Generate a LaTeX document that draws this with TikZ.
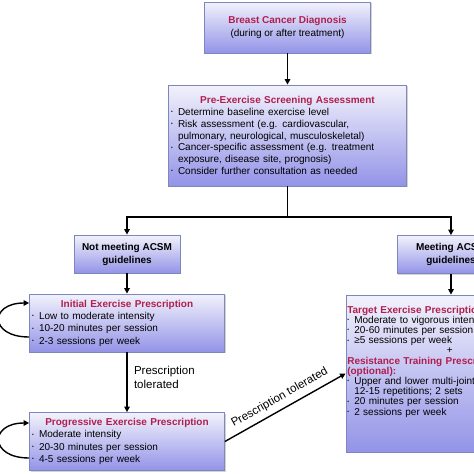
\documentclass[tikz,border=0pt]{standalone}
\usepackage{fontspec}
\setmainfont{Liberation Sans}
\usetikzlibrary{arrows.meta,positioning,calc,shadows}
\definecolor{boxtop}{HTML}{F2F2FC}
\definecolor{boxbot}{HTML}{9393E8}
\definecolor{boxline}{HTML}{7C88BC}
\definecolor{titlered}{HTML}{B01E4E}
\tikzset{
  stepbox/.style={draw=boxline, line width=0.8pt, top color=boxtop, bottom color=boxbot,
    drop shadow={opacity=0.35, shadow xshift=1.2pt, shadow yshift=-1.2pt},
    inner sep=0pt, align=left, font=\fontsize{10}{11.8}\selectfont},
  gatebox/.style={stepbox, align=center, font=\fontsize{10}{13}\selectfont\bfseries},
  flow/.style={-{Triangle[length=5.5pt,width=5.5pt]}, line width=1.4pt, color=black},
  plain/.style={line width=1.4pt, color=black},
  note/.style={font=\fontsize{11.5}{13.5}\selectfont, align=left},
}
\newcommand{\ttl}[1]{\textcolor{titlered}{\bfseries #1}}
\newcommand{\bul}{\makebox[7pt][l]{\raisebox{0.3ex}{\fontsize{5}{5}\selectfont\textbullet}}}

\begin{document}
\begin{tikzpicture}[x=1pt,y=1pt]
  \useasboundingbox (0,0) rectangle (474,-474);
  \clip (0,0) rectangle (474,-474);
  % top of the chart
  \node[stepbox, align=center, minimum width=166pt, minimum height=51pt,
        font=\fontsize{10}{12.5}\selectfont] (diag) at (287.5,-27.5)
    {\ttl{Breast Cancer Diagnosis}\\(during or after treatment)};
  \node[stepbox, minimum width=238pt, minimum height=101pt, text width=233pt] (screen) at (287.5,-135.5)
    {\centering\ttl{Pre-Exercise Screening Assessment}\par
     \raggedright
     \bul Determine baseline exercise level\\
     \bul Risk assessment (e.g. cardiovascular,\\
     \hspace*{7pt}pulmonary, neurological, musculoskeletal)\\
     \bul Cancer-specific assessment (e.g. treatment\\
     \hspace*{7pt}exposure, disease site, prognosis)\\
     \bul Consider further consultation as needed};
  % the two branches
  \node[gatebox, minimum width=106pt, minimum height=38pt] (notmeet) at (127,-254)
    {Not meeting ACSM\\guidelines};
  \node[gatebox, minimum width=108pt, minimum height=38pt] (meet) at (451,-254.5)
    {Meeting ACSM\\guidelines};
  \node[stepbox, minimum width=195pt, minimum height=58pt, text width=190pt,
        font=\fontsize{10}{12.3}\selectfont] (init) at (127,-323)
    {\centering\ttl{Initial Exercise Prescription}\par
     \raggedright
     \bul Low to moderate intensity\\
     \bul 10-20 minutes per session\\
     \bul 2-3 sessions per week};
  \node[stepbox, minimum width=195pt, minimum height=58pt, text width=190pt,
        font=\fontsize{10}{12.3}\selectfont] (prog) at (127,-441.5)
    {\centering\ttl{Progressive Exercise Prescription}\par
     \raggedright
     \bul Moderate intensity\\
     \bul 20-30 minutes per session\\
     \bul 4-5 sessions per week};
  \node[stepbox, minimum width=210pt, minimum height=157pt] (target) at (451,-373.5) {};
  \node[anchor=north west, inner sep=0pt, text width=205pt, align=left,
        font=\fontsize{10}{10.2}\selectfont] (targettext) at ([shift={(1.5,-11)}]target.north west)
    {\ttl{Target Exercise Prescription}\\
     \bul Moderate to vigorous intensity\\
     \bul 20-60 minutes per session\\
     \bul ≥5 sessions per week\par
     {\centering +\par}
     \ttl{Resistance Training Prescription}\\
     \ttl{(optional):}\\
     \bul Upper and lower multi-joint\\
     \hspace*{7pt}12-15 repetitions; 2 sets\\
     \bul 20 minutes per session\\
     \bul 2 sessions per week};
  % connectors
  \coordinate (split) at (287.5,-217);
  \draw[flow] (diag) -- (screen);
  \draw[plain] (screen.south) -- (split);
  \draw[flow] (split) -| (notmeet.north);
  \draw[flow] (split) -| (meet.north);
  \draw[flow] (notmeet) -- (init);
  \draw[flow] (meet) -- (target);
  \draw[flow] (init) -- node[note, pos=0.42, right=3pt] {Prescription\\tolerated} (prog);
  \draw[flow] (prog.east) -- node[note, sloped, above=2pt] {Prescription tolerated} (target.west);
  % repeat loops
  \draw[flow] ([yshift=-14pt]init.west) .. controls +(-40,0) and +(-40,0) .. ([yshift=20pt]init.west);
  \draw[flow] ([yshift=-16.5pt]prog.west) .. controls +(-40,0) and +(-40,0) .. ([yshift=18.5pt]prog.west);
\end{tikzpicture}
\end{document}
